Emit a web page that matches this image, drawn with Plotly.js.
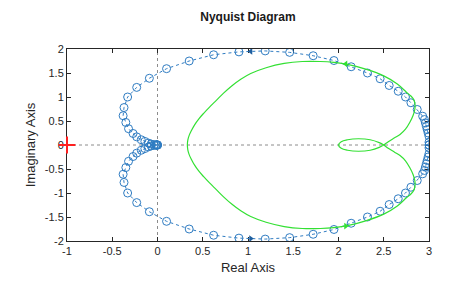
<!DOCTYPE html>
<html><head><meta charset="utf-8">
<script src="https://cdn.plot.ly/plotly-3.0.1.min.js"></script>
<style>html,body{margin:0;padding:0;background:#fff}#plot{width:474px;height:285px}</style>
</head><body><div id="plot"></div>
<script>
// Blue response, upper branch (from 3 to origin)
const blueUpperX = [3.0,3.0,3.0,2.99,2.98,2.97,2.96,2.95,2.93,2.87,2.80,2.74,2.66,2.56,2.46,2.32,2.14,1.95,1.72,1.46,1.19,0.90,0.62,0.35,0.10,-0.09,-0.23,-0.33,-0.37,-0.38,-0.35,-0.32,-0.27,-0.23,-0.18,-0.14,-0.10,-0.07,-0.035,-0.015,-0.006,-0.002,0];
const blueUpperY = [0.0,0.06,0.18,0.25,0.32,0.39,0.46,0.53,0.60,0.74,0.88,1.0,1.12,1.24,1.38,1.50,1.63,1.76,1.86,1.93,1.96,1.94,1.88,1.75,1.59,1.39,1.20,1.0,0.78,0.61,0.47,0.34,0.24,0.17,0.11,0.075,0.04,0.02,0.01,0.004,0.002,0.001,0];
// Blue response, lower branch
const blueLowerX = [3.0,3.0,3.0,2.99,2.98,2.97,2.96,2.95,2.93,2.87,2.80,2.74,2.66,2.56,2.46,2.32,2.14,1.95,1.72,1.46,1.19,0.90,0.62,0.35,0.10,-0.09,-0.23,-0.33,-0.37,-0.38,-0.35,-0.32,-0.27,-0.23,-0.18,-0.14,-0.10,-0.07,-0.035,-0.015,-0.006,-0.002,0];
const blueLowerY = [0.0,-0.06,-0.18,-0.25,-0.32,-0.39,-0.46,-0.53,-0.60,-0.74,-0.88,-1.0,-1.12,-1.24,-1.38,-1.50,-1.63,-1.76,-1.86,-1.93,-1.96,-1.94,-1.88,-1.75,-1.59,-1.39,-1.20,-1.0,-0.78,-0.61,-0.47,-0.34,-0.24,-0.17,-0.11,-0.075,-0.04,-0.02,-0.01,-0.004,-0.002,-0.001,0];
// Green response (closed curve, starting at the self-crossing)
const greenX = [2.50,2.45,2.35,2.22,2.10,2.03,2.0,2.03,2.10,2.22,2.35,2.45,2.50,
                2.55,2.62,2.68,2.74,2.79,2.825,2.845,2.845,2.83,2.80,2.75,2.65,2.50,2.30,2.10,1.95,1.80,1.60,1.40,1.20,1.03,0.92,0.82,0.73,0.65,0.575,0.51,0.455,0.41,0.375,0.35,0.335,
                0.33,
                0.335,0.35,0.375,0.41,0.455,0.51,0.575,0.65,0.73,0.82,0.92,1.03,1.20,1.40,1.60,1.80,1.95,2.10,2.30,2.50,2.65,2.75,2.80,2.83,2.845,2.845,2.825,2.79,2.74,2.68,2.62,2.55,2.50];
const greenY = [0.0,-0.05,-0.11,-0.13,-0.11,-0.07,0.0,0.07,0.11,0.13,0.11,0.05,0.0,
                -0.07,-0.15,-0.22,-0.33,-0.48,-0.62,-0.76,-0.86,-0.95,-1.02,-1.10,-1.27,-1.44,-1.58,-1.68,-1.72,-1.74,-1.74,-1.70,-1.61,-1.49,-1.37,-1.23,-1.08,-0.93,-0.79,-0.66,-0.54,-0.42,-0.30,-0.20,-0.10,
                0.0,
                0.10,0.20,0.30,0.42,0.54,0.66,0.79,0.93,1.08,1.23,1.37,1.49,1.61,1.70,1.74,1.74,1.72,1.68,1.58,1.44,1.27,1.10,1.02,0.95,0.86,0.76,0.62,0.48,0.33,0.22,0.15,0.07,0.0];
// Direction arrows
const blueArrowX = [1.03, 1.03];
const blueArrowY = [1.95, -1.95];
const greenArrowX = [2.08, 2.08];
const greenArrowY = [1.69, -1.69];
const arrowAngles = [-90, 90];
// Critical point
const critX = [-1];
const critY = [0];
const xTicks = [-1,-0.5,0,0.5,1,1.5,2,2.5,3];
const yTicks = [-2,-1.5,-1,-0.5,0,0.5,1,1.5,2];

const blue = '#2f7cc2';
const green = '#33e033';
const traces = [
  {x: blueUpperX, y: blueUpperY, mode: 'lines+markers', line: {color: blue, width: 1, dash: 'dot'},
   marker: {symbol: 'circle-open', size: 8, color: blue, line: {width: 1}}, hoverinfo: 'none'},
  {x: blueLowerX, y: blueLowerY, mode: 'lines+markers', line: {color: blue, width: 1, dash: 'dot'},
   marker: {symbol: 'circle-open', size: 8, color: blue, line: {width: 1}}, hoverinfo: 'none'},
  {x: greenX, y: greenY, mode: 'lines', line: {color: green, width: 1.2, shape: 'spline', smoothing: 1}, hoverinfo: 'none'},
  {x: blueArrowX, y: blueArrowY, mode: 'markers', marker: {symbol: 'triangle-up', size: 6, color: '#1f5f9f', angle: arrowAngles}, hoverinfo: 'none'},
  {x: greenArrowX, y: greenArrowY, mode: 'markers', marker: {symbol: 'triangle-up', size: 6, color: green, angle: arrowAngles}, hoverinfo: 'none'},
  {x: critX, y: critY, mode: 'markers', cliponaxis: false, marker: {symbol: 'cross-thin-open', size: 12, color: '#ff2020', line: {color: '#ff2020', width: 2}}, hoverinfo: 'none'}
];

const axisCommon = {
  showgrid: false, zeroline: false, showline: true, mirror: 'ticks', linecolor: '#262626', linewidth: 1, layer: 'below traces',
  ticks: 'inside', ticklen: 4, tickcolor: '#262626', tickfont: {family: 'Liberation Sans, Arial, sans-serif', size: 11, color: '#262626'}
};
const layout = {
  width: 474, height: 285, showlegend: false,
  margin: {l: 67, r: 45, t: 49, b: 44},
  paper_bgcolor: '#fff', plot_bgcolor: '#fff',
  title: {text: '<b>Nyquist Diagram</b>', x: 0.523, xanchor: 'center', y: 0.94, yanchor: 'middle',
          font: {family: 'Liberation Sans, Arial, sans-serif', size: 12, color: '#1a1a1a'}},
  xaxis: Object.assign({}, axisCommon, {range: [-1, 3], tickvals: xTicks, ticktext: xTicks.map(String),
    title: {text: 'Real Axis', standoff: 6, font: {family: 'Liberation Sans, Arial, sans-serif', size: 13, color: '#262626'}}}),
  yaxis: Object.assign({}, axisCommon, {range: [-2, 2], tickvals: yTicks, ticktext: yTicks.map(String),
    title: {text: 'Imaginary Axis', standoff: 6, font: {family: 'Liberation Sans, Arial, sans-serif', size: 13, color: '#262626'}}}),
  shapes: [
    {type: 'line', xref: 'x', yref: 'paper', x0: 0, x1: 0, y0: 0, y1: 1, line: {color: '#8c8c8c', width: 1, dash: 'dot'}, layer: 'below'},
    {type: 'line', xref: 'paper', yref: 'y', x0: 0, x1: 1, y0: 0, y1: 0, line: {color: '#8c8c8c', width: 1, dash: 'dot'}, layer: 'below'}
  ]
};
Plotly.newPlot('plot', traces, layout, {displayModeBar: false, staticPlot: true});
</script>
</body></html>
